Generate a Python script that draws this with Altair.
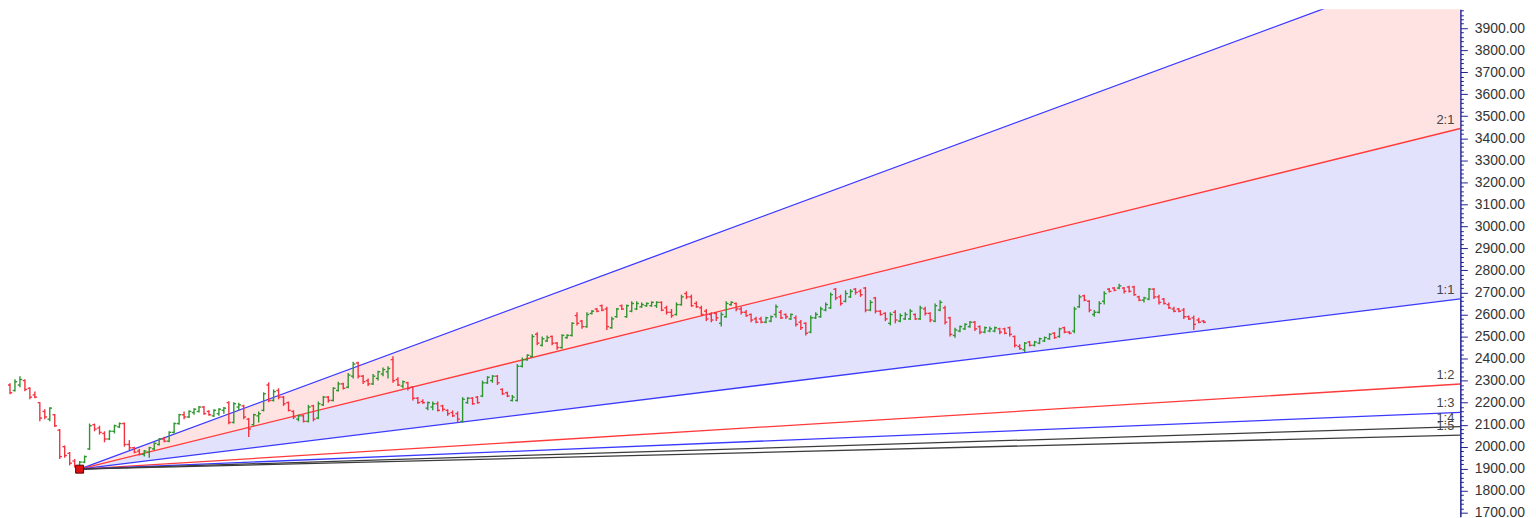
import altair as alt
import pandas as pd

# ---------------- OHLC data ----------------
open_ = [2190, 2250, 2280, 2255, 2280, 2300, 2265, 2235, 2200, 2160,
         2125, 2145, 2075, 2000, 1970, 1935, 1905, 1930, 1990, 2100,
         2085, 2060, 2035, 2070, 2090, 2105, 2010, 1995, 1980, 1965,
         1975, 1990, 2010, 2035, 2025, 2065, 2105, 2145, 2135, 2155,
         2160, 2180, 2160, 2140, 2150, 2165, 2200, 2110, 2180, 2185,
         2125, 2100, 2140, 2165, 2280, 2210, 2255, 2225, 2200, 2160,
         2125, 2140, 2115, 2185, 2130, 2190, 2225, 2210, 2255, 2285,
         2270, 2320, 2380, 2320, 2300, 2285, 2310, 2330, 2340, 2395,
         2305, 2275, 2290, 2270, 2220, 2205, 2175, 2180, 2195, 2185,
         2165, 2155, 2150, 2115, 2200, 2220, 2225, 2230, 2290, 2300,
         2320, 2260, 2245, 2210, 2210, 2365, 2395, 2410, 2510, 2460,
         2480, 2500, 2470, 2450, 2495, 2505, 2595, 2570, 2545, 2605,
         2625, 2640, 2625, 2540, 2590, 2640, 2590, 2615, 2625, 2635,
         2640, 2640, 2640, 2655, 2630, 2610, 2600, 2645, 2695, 2680,
         2650, 2630, 2615, 2600, 2605, 2560, 2590, 2645, 2650, 2625,
         2610, 2600, 2580, 2580, 2565, 2570, 2600, 2610, 2600, 2580,
         2585, 2565, 2560, 2520, 2585, 2590, 2620, 2630, 2715, 2680,
         2660, 2680, 2715, 2705, 2720, 2620, 2675, 2615, 2605, 2560,
         2610, 2570, 2580, 2580, 2600, 2580, 2625, 2605, 2570, 2620,
         2630, 2585, 2505, 2525, 2535, 2545, 2565, 2545, 2520, 2525,
         2525, 2535, 2535, 2540, 2500, 2455, 2440, 2475, 2460, 2470,
         2480, 2490, 2515, 2500, 2540, 2520, 2525, 2635, 2685, 2660,
         2600, 2610, 2660, 2715, 2720, 2720, 2720, 2725, 2725, 2680,
         2665, 2670, 2715, 2680, 2670, 2645, 2625, 2625, 2620, 2590,
         2585, 2575, 2570]
high = [2283, 2292, 2288, 2306, 2320, 2306, 2270, 2250, 2202, 2170,
        2179, 2148, 2080, 2005, 1976, 1944, 1935, 1960, 2105, 2105,
        2095, 2070, 2075, 2100, 2110, 2110, 2030, 2000, 1990, 1985,
        2000, 2020, 2040, 2045, 2070, 2110, 2150, 2160, 2165, 2175,
        2185, 2185, 2165, 2170, 2175, 2180, 2206, 2202, 2200, 2190,
        2130, 2150, 2160, 2247, 2292, 2260, 2265, 2230, 2205, 2165,
        2145, 2145, 2190, 2190, 2205, 2230, 2230, 2270, 2295, 2290,
        2335, 2385, 2385, 2325, 2310, 2330, 2345, 2360, 2365, 2410,
        2315, 2300, 2295, 2275, 2225, 2215, 2205, 2205, 2205, 2190,
        2170, 2165, 2160, 2225, 2225, 2225, 2230, 2300, 2320, 2325,
        2325, 2265, 2250, 2235, 2375, 2405, 2420, 2510, 2520, 2500,
        2505, 2505, 2475, 2510, 2510, 2565, 2610, 2575, 2610, 2620,
        2630, 2645, 2635, 2590, 2630, 2645, 2645, 2660, 2660, 2655,
        2655, 2660, 2660, 2660, 2640, 2625, 2655, 2690, 2705, 2690,
        2660, 2640, 2625, 2610, 2610, 2610, 2660, 2660, 2655, 2635,
        2620, 2605, 2590, 2590, 2590, 2595, 2645, 2620, 2605, 2605,
        2595, 2575, 2565, 2595, 2610, 2635, 2655, 2700, 2720, 2690,
        2710, 2715, 2720, 2715, 2725, 2665, 2680, 2620, 2610, 2610,
        2620, 2605, 2610, 2625, 2605, 2640, 2635, 2610, 2650, 2665,
        2640, 2590, 2540, 2550, 2560, 2570, 2570, 2550, 2545, 2545,
        2545, 2540, 2540, 2545, 2505, 2465, 2475, 2480, 2480, 2495,
        2500, 2515, 2520, 2540, 2545, 2525, 2635, 2690, 2690, 2665,
        2620, 2660, 2705, 2720, 2725, 2740, 2725, 2730, 2730, 2685,
        2680, 2720, 2720, 2690, 2675, 2655, 2635, 2630, 2630, 2595,
        2595, 2585, 2575]
low = [2179, 2247, 2238, 2250, 2270, 2252, 2215, 2220, 2116, 2125,
       2116, 2089, 1944, 1950, 1915, 1905, 1898, 1925, 1985, 2070,
       2055, 2020, 2030, 2060, 2085, 2000, 1985, 1970, 1960, 1955,
       1950, 1985, 2005, 2020, 2020, 2060, 2100, 2125, 2130, 2145,
       2155, 2145, 2140, 2135, 2140, 2150, 2102, 2105, 2165, 2125,
       2044, 2095, 2110, 2160, 2202, 2205, 2215, 2185, 2160, 2125,
       2115, 2110, 2110, 2115, 2125, 2185, 2200, 2205, 2250, 2260,
       2265, 2310, 2310, 2285, 2275, 2280, 2300, 2320, 2310, 2290,
       2275, 2265, 2255, 2210, 2195, 2195, 2165, 2165, 2160, 2160,
       2140, 2135, 2110, 2110, 2195, 2190, 2195, 2225, 2285, 2290,
       2280, 2235, 2225, 2205, 2205, 2360, 2390, 2405, 2460, 2455,
       2475, 2460, 2440, 2445, 2490, 2500, 2550, 2535, 2540, 2600,
       2610, 2615, 2530, 2535, 2585, 2620, 2585, 2610, 2620, 2630,
       2635, 2635, 2630, 2615, 2600, 2585, 2595, 2640, 2670, 2635,
       2630, 2595, 2570, 2565, 2570, 2545, 2585, 2640, 2615, 2600,
       2590, 2565, 2560, 2560, 2560, 2565, 2585, 2580, 2580, 2575,
       2545, 2530, 2505, 2515, 2580, 2585, 2615, 2625, 2665, 2640,
       2655, 2675, 2690, 2680, 2610, 2615, 2605, 2595, 2570, 2550,
       2560, 2565, 2575, 2575, 2575, 2575, 2595, 2565, 2565, 2615,
       2555, 2500, 2495, 2520, 2530, 2540, 2525, 2510, 2515, 2520,
       2520, 2510, 2510, 2500, 2450, 2440, 2430, 2455, 2455, 2465,
       2475, 2485, 2490, 2495, 2515, 2510, 2515, 2630, 2660, 2610,
       2590, 2605, 2645, 2700, 2705, 2715, 2695, 2700, 2685, 2660,
       2655, 2665, 2670, 2645, 2645, 2625, 2610, 2610, 2580, 2575,
       2530, 2560, 2560]
close = [2270, 2285, 2245, 2295, 2305, 2260, 2225, 2225, 2130, 2135,
         2175, 2095, 1955, 1960, 1925, 1910, 1930, 1955, 2095, 2080,
         2065, 2035, 2070, 2095, 2105, 2010, 1995, 1975, 1965, 1980,
         1995, 2015, 2035, 2025, 2065, 2105, 2145, 2135, 2160, 2170,
         2180, 2150, 2145, 2165, 2170, 2175, 2110, 2195, 2190, 2135,
         2080, 2145, 2150, 2240, 2210, 2250, 2225, 2195, 2165, 2135,
         2140, 2115, 2180, 2125, 2195, 2225, 2210, 2265, 2285, 2265,
         2325, 2375, 2320, 2295, 2285, 2320, 2340, 2350, 2355, 2300,
         2280, 2295, 2265, 2220, 2200, 2200, 2200, 2195, 2165, 2170,
         2150, 2140, 2125, 2215, 2220, 2195, 2200, 2290, 2315, 2320,
         2290, 2240, 2230, 2225, 2365, 2395, 2415, 2500, 2470, 2490,
         2495, 2470, 2450, 2505, 2505, 2560, 2560, 2545, 2600, 2615,
         2615, 2620, 2545, 2580, 2625, 2625, 2640, 2650, 2650, 2645,
         2650, 2655, 2655, 2620, 2610, 2595, 2645, 2680, 2680, 2640,
         2635, 2600, 2580, 2575, 2585, 2600, 2650, 2655, 2625, 2610,
         2595, 2575, 2565, 2565, 2585, 2590, 2635, 2585, 2590, 2600,
         2555, 2540, 2515, 2585, 2600, 2625, 2645, 2690, 2675, 2650,
         2695, 2705, 2700, 2690, 2620, 2655, 2615, 2600, 2580, 2600,
         2575, 2595, 2600, 2615, 2580, 2630, 2605, 2575, 2640, 2655,
         2565, 2510, 2530, 2545, 2555, 2565, 2535, 2520, 2540, 2535,
         2540, 2520, 2515, 2510, 2460, 2445, 2470, 2460, 2475, 2490,
         2495, 2510, 2495, 2535, 2520, 2515, 2625, 2680, 2665, 2620,
         2610, 2650, 2695, 2705, 2710, 2730, 2705, 2705, 2690, 2665,
         2675, 2715, 2680, 2655, 2650, 2630, 2615, 2615, 2590, 2580,
         2555, 2565, 2565]

# ---------------- Gann fan definition ----------------
fan_labels = ["3:1", "2:1", "1:1", "1:2", "1:3", "1:4", "1:5"]
fan_ratios = [3, 2, 1, 1 / 2, 1 / 3, 1 / 4, 1 / 5]
fan_colors = ["#3a3aff", "#ff3a3a", "#3a3aff", "#ff3a3a", "#3a3aff", "#3c3c3c", "#3c3c3c"]
fan_label_shown = [False, True, True, True, True, True, True]   # 3:1 label is off the top in the picture
origin_bar = 16
origin_price = 1898
unit = 2.785            # price per bar on the 1:1 line
band_names = ["upper", "lower"]
band_colors = ["#ffe2e2", "#e2e2fd"]

axis_values = list(range(1700, 4001, 20))

X_MIN, X_MAX = 1.6, 293.6
Y_MIN, Y_MAX = 1682.4, 3985.1

# ---------------- tables ----------------
n = len(close)
bars = pd.DataFrame({"i": list(range(n)), "o": open_, "h": high, "l": low, "c": close})
bars["dir"] = ["up" if c >= o else "down" for o, c in zip(open_, close)]
bars["xl"] = bars["i"] - 0.45
bars["xr"] = bars["i"] + 0.45


def fan_price(r, x):
    return origin_price + r * unit * (x - origin_bar)


line_rows = []
for lab, r in zip(fan_labels, fan_ratios):
    for xx in (origin_bar, X_MAX):
        line_rows.append({"label": lab, "x": xx, "p": fan_price(r, xx)})
lines = pd.DataFrame(line_rows)

labels_df = pd.DataFrame([
    {"label": lab, "x": X_MAX, "p": fan_price(r, X_MAX)}
    for lab, r, show in zip(fan_labels, fan_ratios, fan_label_shown) if show
])

band_rows = []
for xx in (origin_bar, X_MAX):
    band_rows.append({"band": "upper", "x": xx, "top": fan_price(3, xx), "bot": fan_price(2, xx)})
    band_rows.append({"band": "lower", "x": xx, "top": fan_price(2, xx), "bot": fan_price(1, xx)})
bands = pd.DataFrame(band_rows)

origin_df = pd.DataFrame({"x": [origin_bar], "p": [origin_price]})

# ---------------- scales / axis ----------------
xs = alt.Scale(domain=[X_MIN, X_MAX], nice=False, zero=False)
ys = alt.Scale(domain=[Y_MIN, Y_MAX], nice=False, zero=False)

y_axis = alt.Axis(
    orient="right",
    values=axis_values,
    labelExpr="datum.value % 100 === 0 ? format(datum.value, '.2f') : ''",
    tickSize={"condition": {"test": "datum.value % 100 === 0", "value": 7}, "value": 3},
    domainColor="#1f1f8f",
    domainWidth=1.5,
    tickColor="#1f1f8f",
    tickWidth=1,
    labelColor="#333333",
    labelFont="Liberation Sans",
    labelFontSize=14,
    labelPadding=7,
    labelOverlap=False,
    labelFlush=False,
    labelBaseline="middle",
    grid=False,
    title=None,
)


def X(field):
    return alt.X(field, scale=xs, axis=None, title=None)


def Y(field):
    return alt.Y(field, scale=ys, axis=y_axis, title=None)


dir_color = alt.Color("dir:N", scale=alt.Scale(domain=["up", "down"], range=["#2f962f", "#f2333f"]), legend=None)

band_layer = alt.Chart(bands).mark_area(clip=True, opacity=1).encode(
    x=X("x:Q"),
    y=Y("top:Q"),
    y2="bot:Q",
    color=alt.Color("band:N", scale=alt.Scale(domain=band_names, range=band_colors), legend=None),
)

line_layer = alt.Chart(lines).mark_line(clip=True, strokeWidth=1.3).encode(
    x=X("x:Q"),
    y=Y("p:Q"),
    color=alt.Color("label:N", scale=alt.Scale(domain=fan_labels, range=fan_colors), legend=None),
    detail="label:N",
)

label_layer = alt.Chart(labels_df).mark_text(
    clip=True, align="right", baseline="bottom", dx=-6, dy=-2,
    font="Liberation Sans", fontSize=13, color="#444444",
).encode(
    x=X("x:Q"),
    y=Y("p:Q"),
    text="label:N",
)

hl_layer = alt.Chart(bars).mark_rule(clip=True, strokeWidth=1.4).encode(
    x=X("i:Q"),
    y=Y("l:Q"),
    y2="h:Q",
    color=dir_color,
)

open_layer = alt.Chart(bars).mark_rule(clip=True, strokeWidth=1.4).encode(
    x=X("xl:Q"),
    x2="i:Q",
    y=Y("o:Q"),
    color=dir_color,
)

close_layer = alt.Chart(bars).mark_rule(clip=True, strokeWidth=1.4).encode(
    x=X("i:Q"),
    x2="xr:Q",
    y=Y("c:Q"),
    color=dir_color,
)

origin_layer = alt.Chart(origin_df).mark_square(
    size=64, color="#e01010", stroke="#5a0000", strokeWidth=1, opacity=1, filled=True,
).encode(
    x=X("x:Q"),
    y=Y("p:Q"),
)

chart = alt.layer(
    band_layer, line_layer, label_layer, hl_layer, open_layer, close_layer, origin_layer
).resolve_scale(
    color="independent"
).properties(
    width=1460,
    height=510,
    autosize=alt.AutoSizeParams(type="none"),
    padding={"left": 0, "top": 0, "right": 68, "bottom": 0},
    background="white",
).configure_view(stroke=None)

chart.save("out.html", embed_options={"renderer": "svg", "actions": False})
